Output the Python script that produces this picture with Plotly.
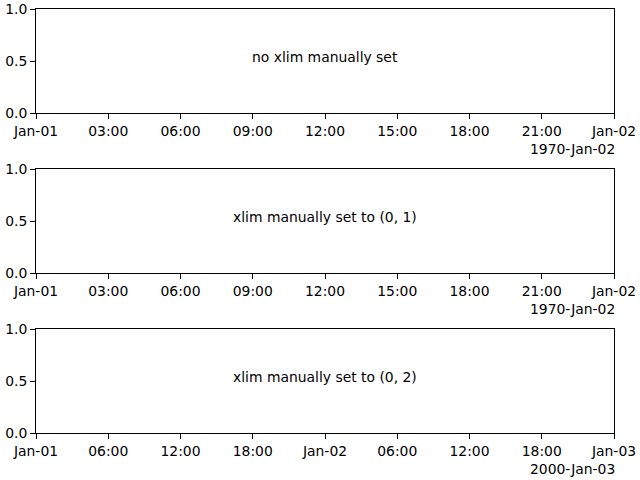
import plotly.graph_objects as go

# x limits for each panel
xlims = [
    ["1970-01-01 00:00", "1970-01-02 00:00"],
    ["1970-01-01 00:00", "1970-01-02 00:00"],
    ["2000-01-01 00:00", "2000-01-03 00:00"],
]
titles = ["no xlim manually set", "xlim manually set to (0, 1)", "xlim manually set to (0, 2)"]
offsets = ["1970-Jan-02", "1970-Jan-02", "2000-Jan-03"]

tick_hours_day = ["00:00", "03:00", "06:00", "09:00", "12:00", "15:00", "18:00", "21:00"]
labels_day = ["Jan-01", "03:00", "06:00", "09:00", "12:00", "15:00", "18:00", "21:00", "Jan-02"]
tickvals_day = [f"1970-01-01 {h}" for h in tick_hours_day] + ["1970-01-02 00:00"]

tickvals_2day = [
    "2000-01-01 00:00", "2000-01-01 06:00", "2000-01-01 12:00", "2000-01-01 18:00",
    "2000-01-02 00:00", "2000-01-02 06:00", "2000-01-02 12:00", "2000-01-02 18:00",
    "2000-01-03 00:00",
]
labels_2day = ["Jan-01", "06:00", "12:00", "18:00", "Jan-02", "06:00", "12:00", "18:00", "Jan-03"]

all_tickvals = [tickvals_day, tickvals_day, tickvals_2day]
all_ticktext = [labels_day, labels_day, labels_2day]

y_ticks = [0, 0.5, 1.0]
y_labels = ["0.0", "0.5", "1.0"]

W, H = 640, 480
ml, mr, mt, mb = 36, 26, 9, 47
ph = H - mt - mb
tops = [9, 169, 329]
axh = 104

fig = go.Figure()
font = dict(family="DejaVu Sans", size=13.9, color="black")

layout = dict(
    width=W, height=H,
    margin=dict(l=ml, r=mr, t=mt, b=mb, autoexpand=False),
    paper_bgcolor="white", plot_bgcolor="white",
    showlegend=False, font=font, annotations=[],
)

for i in range(3):
    n = "" if i == 0 else str(i + 1)
    fig.add_trace(go.Scatter(x=xlims[i], y=[None, None], mode="lines",
                             xaxis="x" + n, yaxis="y" + n, hoverinfo="skip"))
    bot = tops[i] + axh
    ydom = [(H - mb - bot) / ph, (H - mb - tops[i]) / ph]
    common = dict(showline=True, linecolor="black", linewidth=1, mirror=True,
                  ticks="outside", ticklen=5, tickwidth=1, tickcolor="black",
                  showgrid=False, zeroline=False, tickfont=font, automargin=False)
    layout["xaxis" + n] = dict(
        common, type="date", range=xlims[i], domain=[0, 1],
        anchor="y" + n, tickmode="array",
        tickvals=all_tickvals[i], ticktext=all_ticktext[i],
    )
    layout["yaxis" + n] = dict(
        common, range=[0, 1], domain=ydom, anchor="x" + n,
        tickmode="array", tickvals=y_ticks, ticktext=y_labels,
    )
    layout["annotations"].append(dict(
        text=titles[i], xref="x" + n + " domain", yref="y" + n + " domain",
        x=0.5, y=0.54, xanchor="center", yanchor="middle", showarrow=False,
        font=font,
    ))
    layout["annotations"].append(dict(
        text=offsets[i], xref="x" + n + " domain", yref="y" + n + " domain",
        x=1, y=-36 / axh, xanchor="right", yanchor="middle",
        showarrow=False, font=font, xshift=3,
    ))

fig.update_layout(**layout)
# drop the default 8px body margin so the figure sits in the corner of the page
fig.write_html("out.html", config={"displayModeBar": False},
               post_script="document.body.style.margin='0';")
